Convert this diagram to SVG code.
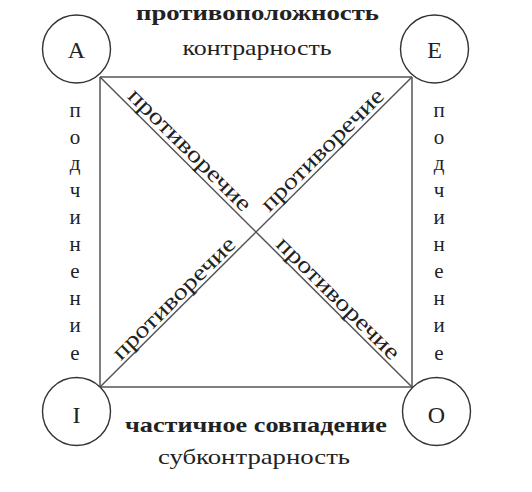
<svg xmlns="http://www.w3.org/2000/svg" width="532" height="492" viewBox="0 0 532 492">
<style>
.t{font-family:"Liberation Serif","DejaVu Serif",serif;fill:#222;font-size:22px;text-anchor:middle}
.b{font-weight:bold}
.n{fill:none;stroke:#333;stroke-width:1.4}
.c line{stroke:#555;stroke-width:1.5}
.v{font-family:"Liberation Serif","DejaVu Serif",serif;fill:#222;font-size:21px;text-anchor:middle}
.L{font-size:24px}
.d{font-size:23px}
.h{font-size:21px}
</style>
<rect width="532" height="492" fill="#fff"/>
<g id="connectors" class="c">
<line x1="100" y1="77" x2="412" y2="77"/>
<line x1="100" y1="387" x2="412" y2="387"/>
<line x1="100" y1="77" x2="100" y2="387"/>
<line x1="412" y1="77" x2="412" y2="387"/>
<line x1="100" y1="77" x2="412" y2="387"/>
<line x1="100" y1="387" x2="412" y2="77"/>
</g>
<g id="node-A"><circle class="n" cx="76.5" cy="49" r="34"/><text class="t L" x="76.5" y="58">A</text></g>
<g id="node-E"><circle class="n" cx="434.5" cy="49" r="34"/><text class="t L" x="434.5" y="58">E</text></g>
<g id="node-I"><circle class="n" cx="76.5" cy="411.5" r="34"/><text class="t L" x="76.5" y="423">I</text></g>
<g id="node-O"><circle class="n" cx="436.5" cy="411.5" r="34"/><text class="t L" x="436.5" y="423">O</text></g>
<g id="labels">
<text class="t b h" x="257.5" y="19.5" textLength="243" lengthAdjust="spacingAndGlyphs">противоположность</text>
<text class="t" x="257" y="54.5" textLength="149" lengthAdjust="spacingAndGlyphs">контрарность</text>
<text class="t b" x="256" y="431.5" textLength="262" lengthAdjust="spacingAndGlyphs">частичное совпадение</text>
<text class="t" x="254" y="464" textLength="192" lengthAdjust="spacingAndGlyphs">субконтрарность</text>
<g transform="translate(181.8,157.8) rotate(44.8)"><text class="t d" x="0" y="-4" textLength="164" lengthAdjust="spacingAndGlyphs">противоречие</text></g>
<g transform="translate(330.2,306.2) rotate(44.8)"><text class="t d" x="0" y="-4" textLength="164" lengthAdjust="spacingAndGlyphs">противоречие</text></g>
<g transform="translate(330.2,157.8) rotate(-44.8)"><text class="t d" x="0" y="-4" textLength="164" lengthAdjust="spacingAndGlyphs">противоречие</text></g>
<g transform="translate(181.8,306.2) rotate(-44.8)"><text class="t d" x="0" y="-4" textLength="164" lengthAdjust="spacingAndGlyphs">противоречие</text></g>
<text class="v" x="75"><tspan x="75" y="116.7">п</tspan><tspan x="75" y="143.5">о</tspan><tspan x="75" y="170">д</tspan><tspan x="75" y="197">ч</tspan><tspan x="75" y="223.5">и</tspan><tspan x="75" y="250.5">н</tspan><tspan x="75" y="278">е</tspan><tspan x="75" y="305">н</tspan><tspan x="75" y="332">и</tspan><tspan x="75" y="360">е</tspan></text>
<text class="v" x="439"><tspan x="439" y="116.7">п</tspan><tspan x="439" y="143.5">о</tspan><tspan x="439" y="170">д</tspan><tspan x="439" y="197">ч</tspan><tspan x="439" y="223.5">и</tspan><tspan x="439" y="250.5">н</tspan><tspan x="439" y="278">е</tspan><tspan x="439" y="305">н</tspan><tspan x="439" y="332">и</tspan><tspan x="439" y="360">е</tspan></text>
</g>
</svg>
